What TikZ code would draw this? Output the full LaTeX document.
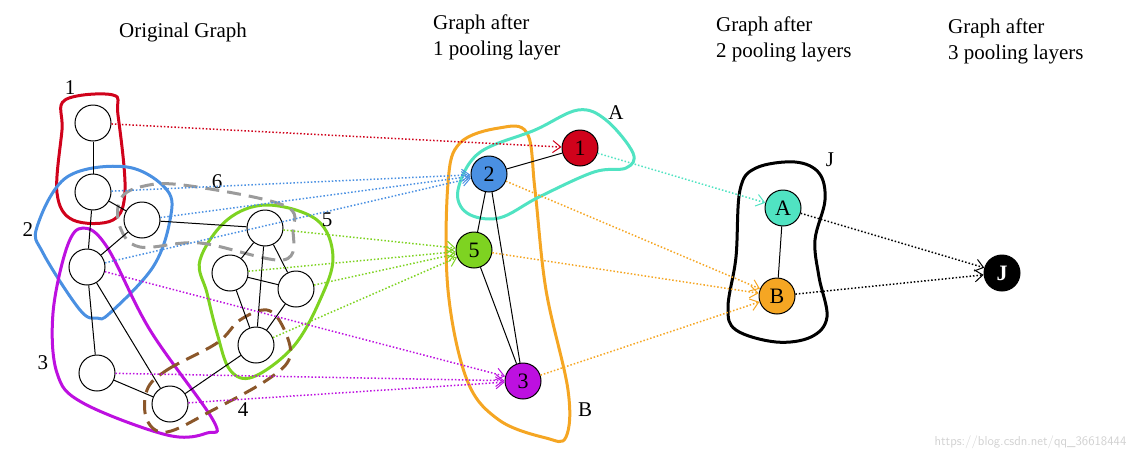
\documentclass[tikz,border=0pt]{standalone}
\usepackage{fontspec}
\setmainfont{Liberation Serif}
\usetikzlibrary{arrows.meta}
\definecolor{cred}{HTML}{D0021B}
\definecolor{cblue}{HTML}{4A90E2}
\definecolor{cgreen}{HTML}{7ED321}
\definecolor{cpurple}{HTML}{BD10E0}
\definecolor{cteal}{HTML}{50E3C2}
\definecolor{corange}{HTML}{F5A623}
\definecolor{cgray}{HTML}{9B9B9B}
\definecolor{cbrown}{HTML}{8B572A}
\begin{document}
\begin{tikzpicture}[x=1pt,y=-1pt,
  v/.style={circle,draw,line width=1pt,minimum size=36pt,inner sep=0pt,font=\fontsize{22}{22}\selectfont},
  e/.style={line width=1pt},
  hull/.style={line width=3pt,smooth cycle,tension=0.6},
  con/.style={dotted,line width=1.5pt,-{Straight Barb[length=8pt,width=12pt,line width=1pt]}},
  lab/.style={font=\fontsize{21}{21}\selectfont},
  ttl/.style={font=\fontsize{21}{26}\selectfont,align=left,anchor=north west,inner sep=0pt}]
\useasboundingbox (0,0) rectangle (1136,461);
% titles
\node[lab] (t0) at (183,32) {Original Graph};
\node[ttl] (t1) at (433,15) {Graph after\\1 pooling layer};
\node[ttl] (t2) at (716,17) {Graph after\\2 pooling layers};
\node[ttl] (t3) at (948,19) {Graph after\\3 pooling layers};
% hulls original
\draw[hull,cred] plot coordinates {(65,100) (113,95) (118,115) (125,190) (113,220) (73,220) (57,193) (62,130)};
\draw[hull,cblue] plot coordinates {(37,227) (67,177) (127,167) (167,190) (170,220) (153,267) (110,313) (97,318) (80,310) (43,253)};
\draw[hull,cpurple] plot coordinates {(53,313) (67,247) (83,228) (107,247) (150,330) (213,420) (207,433) (167,435) (83,403) (57,373)};
\draw[hull,cgreen] plot coordinates {(200,260) (227,220) (267,205) (317,220) (333,257) (320,300) (293,347) (253,377) (230,370) (217,333) (207,293)};
\draw[hull,cgray,dash pattern=on 14pt off 8pt] plot coordinates {(120,200) (140,187) (183,185) (283,205) (293,230) (283,260) (200,243) (140,247) (120,227)};
\draw[hull,cbrown,dash pattern=on 14pt off 8pt] plot coordinates {(147,390) (167,370) (217,343) (240,320) (267,310) (283,327) (290,357) (267,380) (213,410) (167,432) (147,420)};
\node[lab] (l1) at (70,88) {1};
\node[lab] (l2) at (28,230) {2};
\node[lab] (l3) at (43,363) {3};
\node[lab] (l4) at (243,410) {4};
\node[lab] (l5) at (327,220) {5};
\node[lab] (l6) at (217,182) {6};
% original nodes
\node[v,fill=white] (n1) at (93,123) {};
\node[v,fill=white] (n2) at (93,192) {};
\node[v,fill=white] (n3) at (142,220) {};
\node[v,fill=white] (n4) at (87,267) {};
\node[v,fill=white] (n5) at (265,228) {};
\node[v,fill=white] (n6) at (230,273) {};
\node[v,fill=white] (n7) at (296,289) {};
\node[v,fill=white] (n8) at (256,345) {};
\node[v,fill=white] (n9) at (97,373) {};
\node[v,fill=white] (n10) at (170,404) {};
\foreach \a/\b in {n1/n2,n2/n3,n2/n4,n4/n3,n3/n5,n4/n9,n4/n10,n9/n10,n10/n8,n5/n6,n5/n7,n5/n8,n6/n7,n6/n8,n7/n8}
  \draw[e] (\a) -- (\b);
% middle hulls
\draw[hull,corange] plot coordinates {(448,183) (460,143) (499,128) (527,133) (535,190) (546,290) (568,390) (566,437) (546,438) (499,420) (467,380) (448,290)};
\draw[hull,cteal] plot coordinates {(458,190) (479,153) (535,130) (578,110) (606,120) (633,153) (626,168) (594,172) (539,197) (499,218) (467,213)};
\node[lab] (lA) at (616,113) {A};
\node[lab] (lB) at (585,410) {B};
\node[v,fill=cred] (m1) at (580,148) {1};
\node[v,fill=cblue] (m2) at (489,174) {2};
\node[v,fill=cgreen] (m5) at (474,250) {5};
\node[v,fill=cpurple] (m3) at (523,381) {3};
\draw[e] (m2) -- (m1);
\draw[e] (m2) -- (m5);
\draw[e] (m2) -- (m3);
\draw[e] (m5) -- (m3);
% right
\draw[hull,black] plot coordinates {(740,190) (756,168) (795,162) (819,173) (825,200) (815,240) (819,277) (827,317) (811,337) (776,342) (736,330) (728,307) (736,257)};
\node[lab] (lJ) at (830,160) {J};
\node[v,fill=cteal] (A) at (783,208) {A};
\node[v,fill=corange] (B) at (777,296) {B};
\node[v,fill=black,text=white,font=\fontsize{22}{22}\selectfont\bfseries] (J) at (1002,273) {J};
\draw[e] (A) -- (B);
% connectors
\draw[con,cred] (n1) -- (m1);
\foreach \s in {n2,n3,n4} \draw[con,cblue] (\s) -- (m2);
\foreach \s in {n5,n6,n7,n8} \draw[con,cgreen] (\s) -- (m5);
\foreach \s in {n4,n9,n10} \draw[con,cpurple] (\s) -- (m3);
\draw[con,cteal] (m1) -- (A);
\foreach \s in {m2,m5,m3} \draw[con,corange] (\s) -- (B);
\draw[con,black] (A) -- (J);
\draw[con,black] (B) -- (J);
\node[font=\fontsize{13}{13}\sffamily,text=black!18,anchor=east] (wm) at (1130,442) {https://blog.csdn.net/qq\_36618444};
\end{tikzpicture}
\end{document}
